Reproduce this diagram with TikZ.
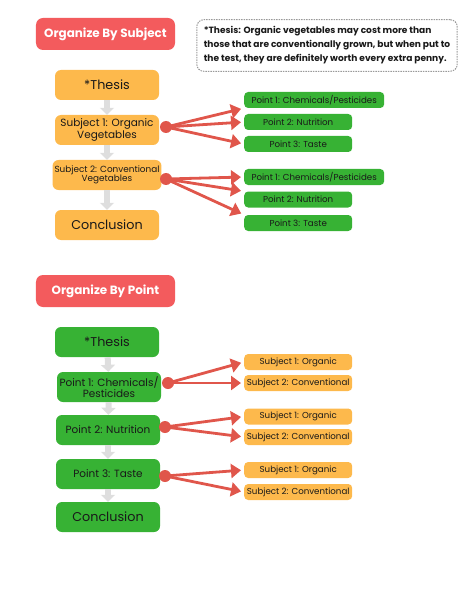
\documentclass[tikz,border=0pt]{standalone}
\usepackage{fontspec}
\setmainfont{Poppins}
\usetikzlibrary{positioning, arrows.meta}

\definecolor{headred}{HTML}{F35B5D}
\definecolor{subjorange}{HTML}{FDB94C}
\definecolor{pointgreen}{HTML}{37B234}
\definecolor{linkred}{HTML}{E0564B}
\definecolor{stepgray}{HTML}{DEDEDE}
\definecolor{notegray}{HTML}{9A9A9A}

\begin{document}
\begin{tikzpicture}[
    x=1bp, y=-1bp,
    every node/.style={align=center, text=black!90},
    header/.style={
        fill=headred, rounded corners=7bp, text=white,
        minimum width=139bp, minimum height=32bp, inner sep=2bp,
        font=\fontsize{12}{14}\selectfont\bfseries
    },
    column/.style={
        rounded corners=6bp, minimum width=104bp, minimum height=30bp,
        inner sep=2bp, font=\fontsize{10.5}{10.5}\selectfont
    },
    subjbox/.style={column, fill=subjorange},
    pointbox/.style={column, fill=pointgreen},
    leaf/.style={
        anchor=west, rounded corners=4bp, minimum width=108bp,
        minimum height=16bp, inner sep=1bp, font=\fontsize{8.7}{10}\selectfont
    },
    note/.style={
        draw=notegray, dashed, dash pattern=on 1.5bp off 1bp, line width=1bp,
        rounded corners=7bp, align=left, inner sep=7bp,
        font=\fontsize{9.1}{14}\selectfont\bfseries
    },
    hub/.style={circle, fill=linkred, minimum size=12bp, inner sep=0pt},
    link/.style={linkred, line width=2.8bp, -{Triangle[length=10bp, width=14bp]}, shorten >=3bp},
    stepdown/.style={stepgray, line width=6bp, -{Triangle[length=7bp, width=14bp]}},
    large/.style={font=\fontsize{12.8}{14}\selectfont}
]
\useasboundingbox (0,0) rectangle (474,613);

% --------------------------------------------------------------------------
% Organize by subject: subjects down the column, points to the right.
% --------------------------------------------------------------------------
\node[header] (bySubject) at (105.5,34) {Organize By Subject};
\node[note] (thesisNote) at (327,45.5) {*Thesis: Organic vegetables may cost more than\\those that are conventionally grown, but when put to\\the test, they are definitely worth every extra penny.};

\node[subjbox, large] (thesisS) at (107,85) {*Thesis};
\node[subjbox] (subjA) at (107,130) {Subject 1: Organic\\Vegetables};
\node[subjbox, font=\fontsize{8.9}{9.5}\selectfont] (subjB) at (107,175) {Subject 2: Conventional\\Vegetables};
\node[subjbox, large] (conclS) at (107,225) {Conclusion};

% Points for subject 1.
\node[leaf, fill=pointgreen, minimum width=140bp] (ptA1) at (244,100) {Point 1: Chemicals/Pesticides};
\node[leaf, fill=pointgreen] (ptA2) at (244,122) {Point 2: Nutrition};
\node[leaf, fill=pointgreen] (ptA3) at (244,144) {Point 3: Taste};

% Points for subject 2.
\node[leaf, fill=pointgreen, minimum width=140bp] (ptB1) at (244,177) {Point 1: Chemicals/Pesticides};
\node[leaf, fill=pointgreen] (ptB2) at (244,199.5) {Point 2: Nutrition};
\node[leaf, fill=pointgreen] (ptB3) at (244,223) {Point 3: Taste};

\node[hub] (hubA) at (166,127) {};
\node[hub] (hubB) at (166,179) {};

% Column order.
\draw[stepdown] (thesisS) -- (subjA);
\draw[stepdown] (subjA) -- (subjB);
\draw[stepdown] (subjB) -- (conclS);

% Subject to point links.
\draw[link] (hubA.center) -- (ptA1.south west);
\draw[link] (hubA.center) -- (ptA2.west);
\draw[link] (hubA.center) -- (ptA3.west);
\draw[link] (hubB.center) -- (ptB1.west);
\draw[link] (hubB.center) -- (ptB2.north west);
\draw[link] (hubB.center) -- (ptB3.north west);

% --------------------------------------------------------------------------
% Organize by point: points down the column, subjects to the right.
% --------------------------------------------------------------------------
\node[header] (byPoint) at (105.5,291) {Organize By Point};

\node[pointbox, large] (thesisP) at (107,342) {*Thesis};
\node[pointbox] (pointA) at (109,387) {Point 1: Chemicals/\\Pesticides};
\node[pointbox] (pointB) at (108,430) {Point 2: Nutrition};
\node[pointbox] (pointC) at (108,474) {Point 3: Taste};
\node[pointbox, large] (conclP) at (108,517) {Conclusion};

% Subjects for each point.
\node[leaf, fill=subjorange] (sbA1) at (244,362) {Subject 1: Organic};
\node[leaf, fill=subjorange] (sbA2) at (244,383) {Subject 2: Conventional};
\node[leaf, fill=subjorange] (sbB1) at (244,416.5) {Subject 1: Organic};
\node[leaf, fill=subjorange] (sbB2) at (244,437) {Subject 2: Conventional};
\node[leaf, fill=subjorange] (sbC1) at (244,470) {Subject 1: Organic};
\node[leaf, fill=subjorange] (sbC2) at (244,492) {Subject 2: Conventional};

\node[hub] (hubC) at (168,383) {};
\node[hub] (hubD) at (165,427) {};
\node[hub] (hubE) at (165,476) {};

\draw[stepdown] (thesisP) -- (pointA);
\draw[stepdown] (pointA) -- (pointB);
\draw[stepdown] (pointB) -- (pointC);
\draw[stepdown] (pointC) -- (conclP);

\draw[link] (hubC.center) -- (sbA1.west);
\draw[link] (hubC.center) -- (sbA2.west);
\draw[link] (hubD.center) -- (sbB1.west);
\draw[link] (hubD.center) -- (sbB2.west);
\draw[link] (hubE.center) -- (sbC1.west);
\draw[link] (hubE.center) -- (sbC2.west);

\end{tikzpicture}
\end{document}
